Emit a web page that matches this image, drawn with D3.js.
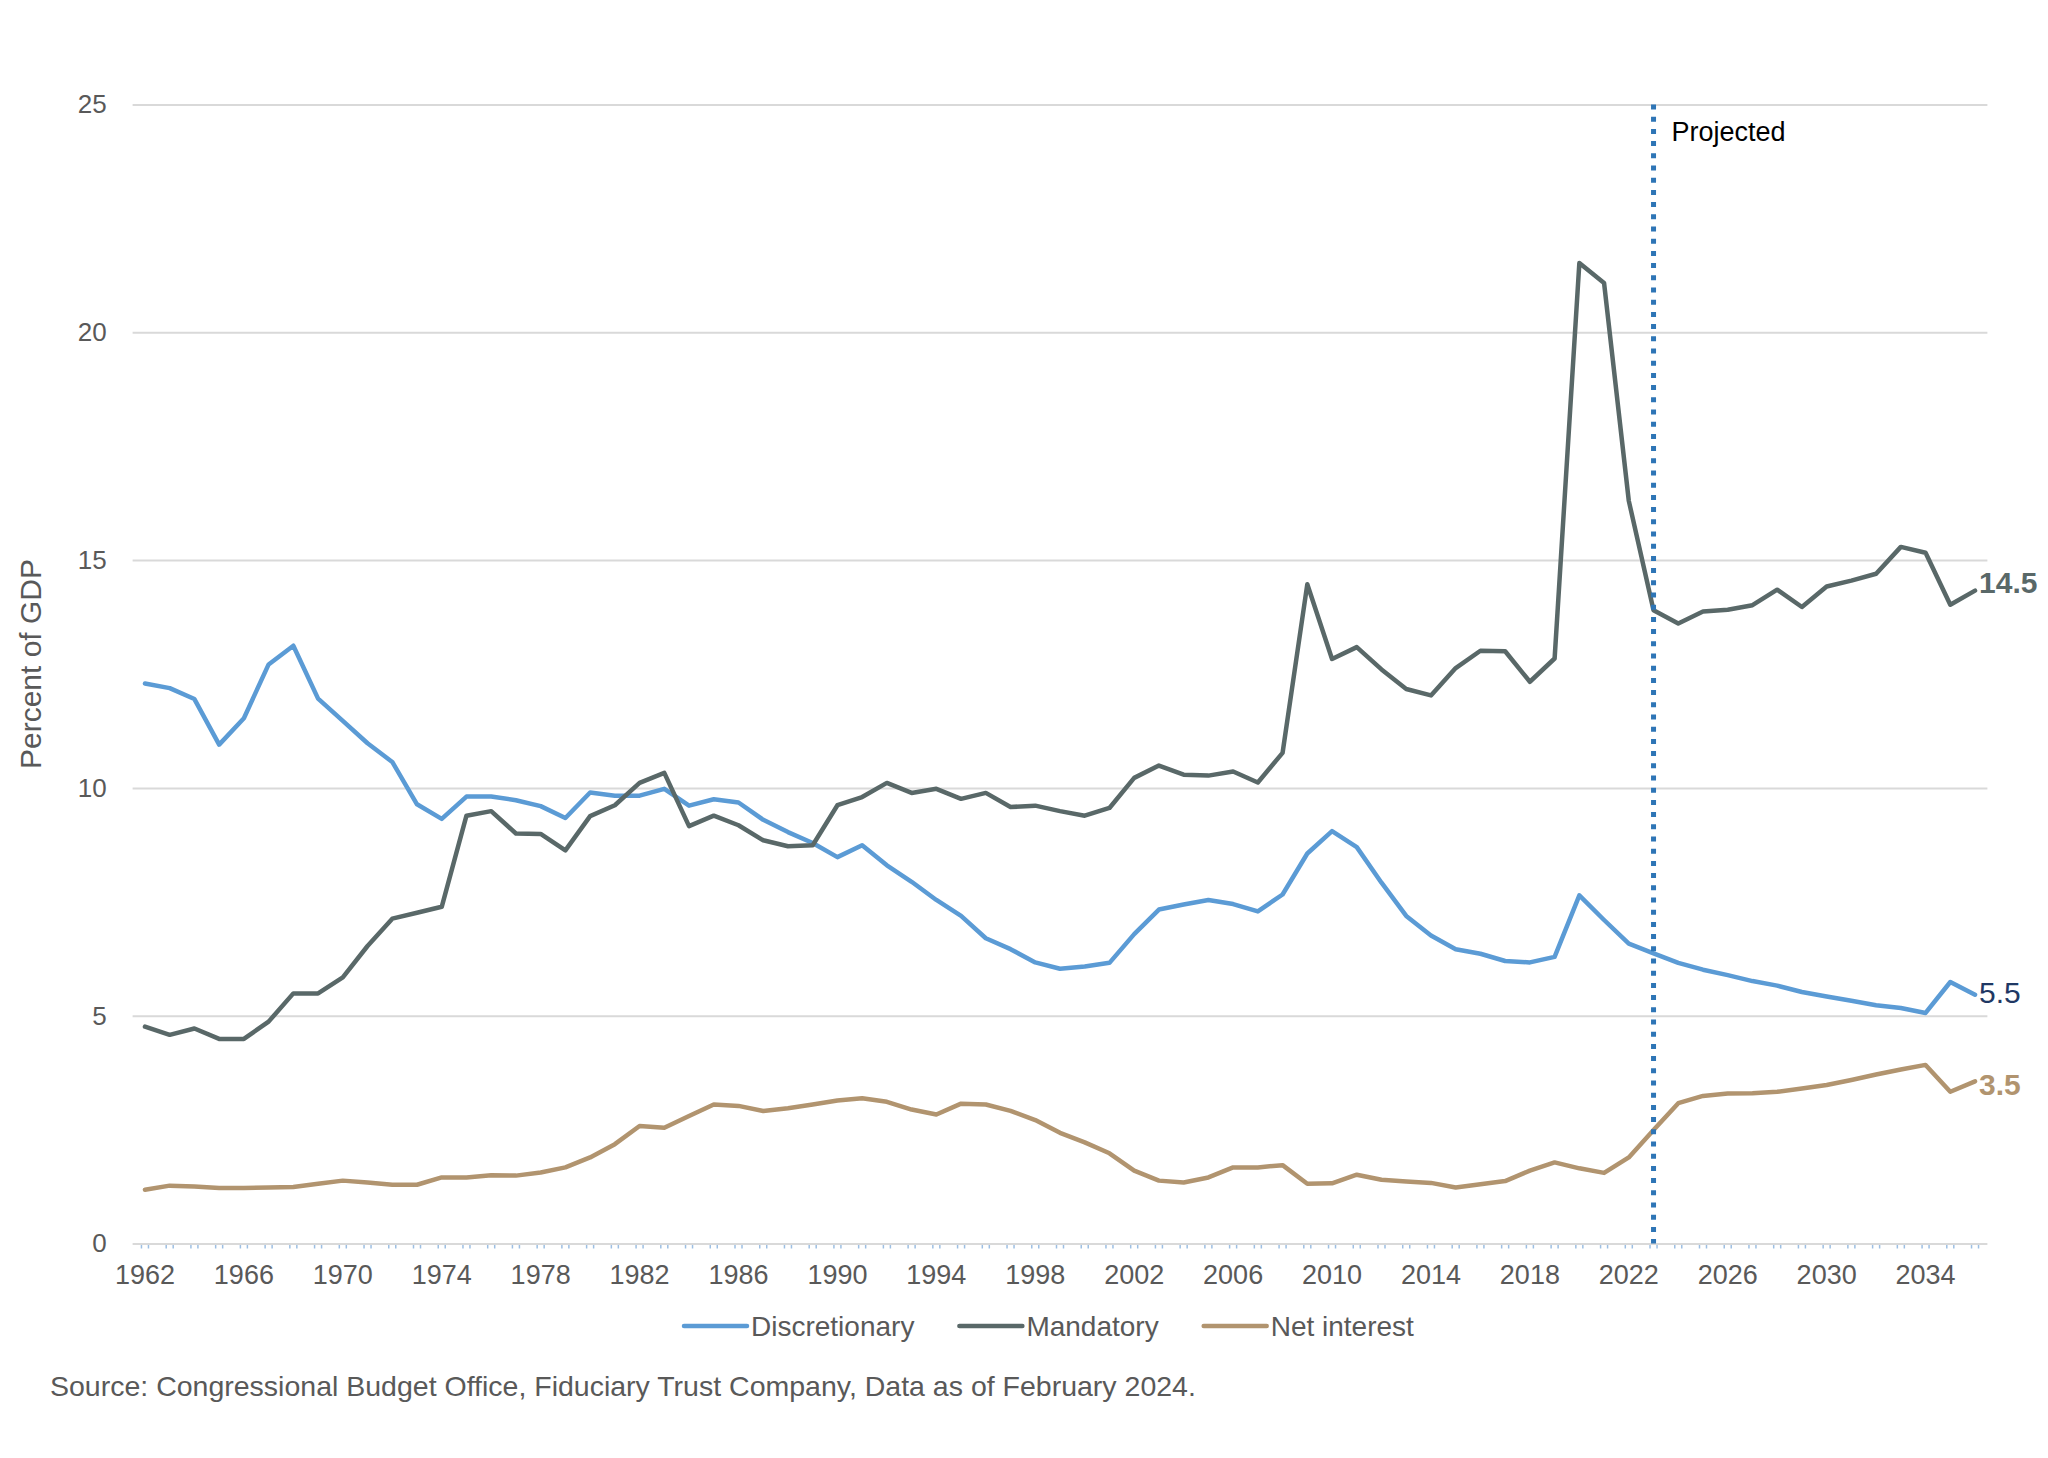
<!DOCTYPE html>
<html>
<head>
<meta charset="utf-8">
<script src="https://cdn.jsdelivr.net/npm/d3@7"></script>
<style>
  body { margin: 0; background: #fff; }
  text { font-family: "Liberation Sans", Arial, sans-serif; }
</style>
</head>
<body>
<svg id="chart" width="2048" height="1458"></svg>
<script>
// categories
var years = d3.range(1962, 2037);
var tickYears = [1962, 1966, 1970, 1974, 1978, 1982, 1986, 1990, 1994, 1998, 2002, 2006, 2010, 2014, 2018, 2022, 2026, 2030, 2034];
var yTicks = [0, 5, 10, 15, 20, 25];
var projectedYear = 2023;

// series, percent of GDP
var discretionary = [
  12.29, 12.19, 11.95, 10.95, 11.53, 12.71, 13.12, 11.96, 11.47, 10.98,
  10.57, 9.64, 9.32, 9.81, 9.81, 9.73, 9.60, 9.34, 9.90, 9.83,
  9.83, 9.98, 9.61, 9.75, 9.68, 9.30, 9.03, 8.79, 8.48, 8.74,
  8.30, 7.94, 7.54, 7.19, 6.70, 6.46, 6.17, 6.03, 6.08, 6.16,
  6.79, 7.33, 7.44, 7.54, 7.45, 7.29, 7.66, 8.56, 9.05, 8.70,
  7.92, 7.19, 6.76, 6.46, 6.36, 6.20, 6.17, 6.29, 7.64, 7.10,
  6.58, 6.37, 6.16, 6.01, 5.89, 5.76, 5.66, 5.52, 5.42, 5.33,
  5.23, 5.17, 5.06, 5.74, 5.46
];
var mandatory = [
  4.76, 4.58, 4.72, 4.49, 4.49, 4.87, 5.49, 5.49, 5.84, 6.53,
  7.13, 7.26, 7.39, 9.39, 9.49, 9.00, 8.99, 8.63, 9.38, 9.62,
  10.11, 10.33, 9.16, 9.39, 9.18, 8.85, 8.72, 8.74, 9.62, 9.80,
  10.11, 9.89, 9.98, 9.76, 9.89, 9.58, 9.61, 9.49, 9.39, 9.56,
  10.22, 10.49, 10.29, 10.27, 10.36, 10.12, 10.77, 14.47, 12.83, 13.09,
  12.60, 12.17, 12.03, 12.63, 13.01, 13.00, 12.33, 12.84, 21.52, 21.08,
  16.30, 13.90, 13.61, 13.87, 13.91, 14.01, 14.35, 13.97, 14.42, 14.55,
  14.70, 15.29, 15.16, 14.02, 14.33
];
var netInterest = [
  1.18, 1.27, 1.25, 1.22, 1.22, 1.23, 1.24, 1.31, 1.38, 1.34,
  1.29, 1.29, 1.45, 1.45, 1.50, 1.49, 1.56, 1.67, 1.89, 2.18,
  2.58, 2.54, 2.80, 3.05, 3.02, 2.91, 2.97, 3.05, 3.14, 3.19,
  3.11, 2.94, 2.83, 3.07, 3.05, 2.91, 2.71, 2.43, 2.22, 1.98,
  1.60, 1.38, 1.34, 1.45, 1.67, 1.67, 1.72, 1.31, 1.32, 1.51,
  1.40, 1.36, 1.33, 1.23, 1.30, 1.37, 1.60, 1.78, 1.65, 1.55,
  1.89, 2.49, 3.08, 3.24, 3.29, 3.30, 3.33, 3.40, 3.48, 3.59,
  3.71, 3.82, 3.92, 3.33, 3.56
];

var seriesNames = ["Discretionary", "Mandatory", "Net interest"];
var seriesColors = ["#5B9BD5", "#596868", "#B1946F"];
var endLabels = [5.5, 14.5, 3.5];
var endLabelColors = ["#1F3864", "#596868", "#B1946F"];
var endLabelWeights = ["normal", "bold", "bold"];

var svg = d3.select("#chart");
svg.append("rect").attr("width", 2048).attr("height", 1458).attr("fill", "#fff");

var plotLeft = 132.6, plotRight = 1987.4, plotTop = 104.5, plotBottom = 1243.5;

var x = d3.scaleBand().domain(years).range([plotLeft, plotRight]).padding(0);
var y = d3.scaleLinear().domain([0, 25]).range([plotBottom, plotTop]);
var cx = function(yr) { return x(yr) + x.bandwidth() / 2; };

// y axis with gridlines
var yAxis = svg.append("g")
  .attr("transform", "translate(" + plotLeft + ",0)")
  .call(d3.axisLeft(y).tickValues(yTicks).tickSize(-(plotRight - plotLeft)).tickPadding(26));
yAxis.select(".domain").remove();
yAxis.selectAll("line").attr("stroke", "#D9D9D9").attr("stroke-width", 2);
yAxis.selectAll("text")
  .attr("fill", "#595959")
  .style("font-size", "26px")
  .style("font-family", "'Liberation Sans', Arial, sans-serif");

// x axis labels
var xAxis = svg.append("g")
  .attr("transform", "translate(0," + plotBottom + ")")
  .call(d3.axisBottom(x).tickValues(tickYears).tickSize(0).tickPadding(21));
xAxis.select(".domain").remove();
xAxis.selectAll("text")
  .attr("fill", "#595959")
  .style("font-size", "27px")
  .style("font-family", "'Liberation Sans', Arial, sans-serif");

// small tick marks along the baseline
var marks = svg.append("g");
years.forEach(function(yr) {
  [-3.5, 3.5].forEach(function(off) {
    marks.append("line")
      .attr("x1", cx(yr) + off).attr("x2", cx(yr) + off)
      .attr("y1", plotBottom + 1.5).attr("y2", plotBottom + 5)
      .attr("stroke", "#9DBFE3").attr("stroke-width", 1.5);
  });
});

// y title
svg.append("text")
  .attr("transform", "translate(33,664) rotate(-90)")
  .attr("text-anchor", "middle")
  .attr("dominant-baseline", "middle")
  .attr("fill", "#595959")
  .style("font-size", "30px")
  .text("Percent of GDP");

// lines
var seriesData = [discretionary, mandatory, netInterest];
var line = d3.line()
  .x(function(d, i) { return cx(years[i]); })
  .y(function(d) { return y(d); });

seriesData.forEach(function(vals, s) {
  svg.append("path")
    .datum(vals)
    .attr("d", line)
    .attr("fill", "none")
    .attr("stroke", seriesColors[s])
    .attr("stroke-width", 4.5)
    .attr("stroke-linejoin", "round")
    .attr("stroke-linecap", "round");
});

// projected divider
svg.append("line")
  .attr("x1", cx(projectedYear)).attr("x2", cx(projectedYear))
  .attr("y1", y(25)).attr("y2", y(0))
  .attr("stroke", "#2E75B6")
  .attr("stroke-width", 5)
  .attr("stroke-dasharray", "5,7.2");
svg.append("text")
  .attr("x", cx(projectedYear) + 18)
  .attr("y", 141)
  .attr("fill", "#000")
  .style("font-size", "27px")
  .text("Projected");

// end labels
var lastX = cx(years[years.length - 1]);
endLabels.forEach(function(v, s) {
  svg.append("text")
    .attr("x", lastX + 4)
    .attr("y", y(v))
    .attr("dy", "0.35em")
    .attr("fill", endLabelColors[s])
    .style("font-size", "30px")
    .style("font-weight", endLabelWeights[s])
    .text(d3.format(".1f")(v));
});

// legend
var legend = svg.append("g");
var lx = 684, ly = 1326;
seriesNames.forEach(function(name, s) {
  legend.append("line")
    .attr("x1", lx).attr("x2", lx + 63)
    .attr("y1", ly).attr("y2", ly)
    .attr("stroke", seriesColors[s])
    .attr("stroke-width", 4.5)
    .attr("stroke-linecap", "round");
  var t = legend.append("text")
    .attr("x", lx + 67)
    .attr("y", ly)
    .attr("dy", "0.35em")
    .attr("fill", "#595959")
    .style("font-size", "28px")
    .text(name);
  lx = lx + 67 + t.node().getComputedTextLength() + 45;
});

// source note
svg.append("text")
  .attr("x", 50)
  .attr("y", 1396)
  .attr("fill", "#595959")
  .style("font-size", "28.5px")
  .text("Source: Congressional Budget Office, Fiduciary Trust Company, Data as of February 2024.");
</script>
</body>
</html>
